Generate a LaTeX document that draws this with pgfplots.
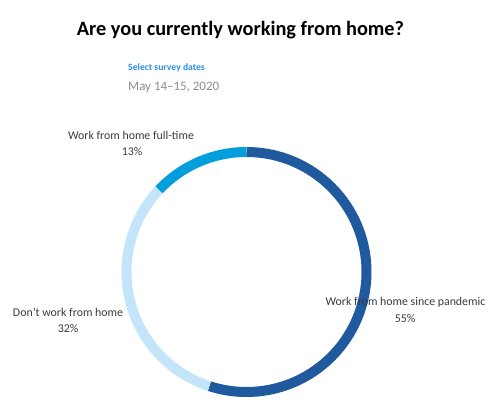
\documentclass[border=0pt]{standalone}
\usepackage{pgfplots}
\pgfplotsset{compat=1.18}
\usepackage{fontspec}
\setmainfont{Carlito}

\definecolor{dark}{HTML}{1F5A9E}
\definecolor{mid}{HTML}{039FDD}
\definecolor{light}{HTML}{C3E5FA}
\definecolor{labelgrey}{HTML}{3A3A3A}
\definecolor{datebl}{HTML}{2F8FEA}
\definecolor{dategrey}{HTML}{8C8C8C}

% share of answers, in percent, clockwise from the top
\def\sinceP{55}
\def\notH{32}
\def\fullT{13}

\begin{document}
\begin{tikzpicture}
\begin{axis}[
  scale only axis,
  width=500bp, height=420bp,
  xmin=0, xmax=500, ymin=0, ymax=420,
  hide axis,
  clip=false,
]
% ring: centre (246.5,148), middle radius 120, 10 wide
\draw[dark, line width=10bp]
  (axis cs:246.5,268) arc[start angle=90, end angle={90-3.6*\sinceP}, radius=120bp];
\draw[light, line width=10bp]
  (axis cs:{246.5+120*cos(90-3.6*\sinceP)},{148+120*sin(90-3.6*\sinceP)})
  arc[start angle={90-3.6*\sinceP}, end angle={90-3.6*(\sinceP+\notH)}, radius=120bp];
\draw[mid, line width=10bp]
  (axis cs:{246.5+120*cos(90-3.6*(\sinceP+\notH))},{148+120*sin(90-3.6*(\sinceP+\notH))})
  arc[start angle={90-3.6*(\sinceP+\notH)}, end angle=-270, radius=120bp];

% titles
\node[anchor=base, inner sep=0pt, font=\bfseries\fontsize{20.4}{22}\selectfont] at (axis cs:240.5,384)
  {Are you currently working from home?};
\node[anchor=base west, inner sep=0pt, text=datebl, font=\bfseries\fontsize{9.7}{11}\selectfont]
  at (axis cs:128,349.5) {Select survey dates};
\node[anchor=base west, inner sep=0pt, text=dategrey, font=\fontsize{13}{15}\selectfont]
  at (axis cs:128,329) {May 14--15, 2020};

% labels
\begin{scope}[every node/.style={anchor=base, inner sep=0pt, text=labelgrey, font=\fontsize{11.9}{13}\selectfont}]
\node at (axis cs:131,280.7) {Work from home full-time};
\node at (axis cs:132,264.3) {\fullT\%};
\node at (axis cs:68,103.3) {Don’t work from home};
\node at (axis cs:68,87.3) {\notH\%};
\node at (axis cs:405.5,114) {Work from home since pandemic};
\node at (axis cs:405,97.7) {\sinceP\%};
\end{scope}
\end{axis}
\pgfresetboundingbox
\path (0,0) rectangle (500bp,420bp);
\end{tikzpicture}
\end{document}
